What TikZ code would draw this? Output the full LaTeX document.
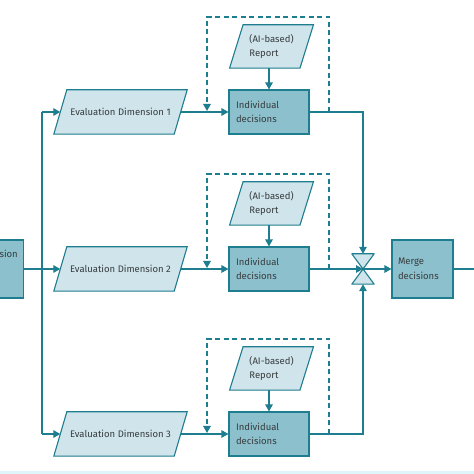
\documentclass[tikz,border=0pt]{standalone}
\usepackage{fontspec}
\setmainfont{Fira Sans}
\usetikzlibrary{arrows.meta, positioning, calc, backgrounds}

\definecolor{tealline}{RGB}{30,125,142}
\definecolor{lightfill}{RGB}{207,228,235}
\definecolor{boxfill}{RGB}{140,192,204}
\definecolor{textgray}{RGB}{55,60,62}
\definecolor{bandfill}{RGB}{222,245,250}

\begin{document}
\begin{tikzpicture}[
  x=1pt, y=1pt,
  every node/.style={font=\fontsize{9.5}{14.5}\selectfont, text=textgray},
  parashape/.style={draw=tealline, fill=lightfill, line width=1.1pt, line join=miter},
  evalbox/.style={rectangle, inner sep=0pt, minimum width=120pt, minimum height=44pt},
  reportbox/.style={rectangle, inner sep=0pt, minimum width=70pt, minimum height=43pt, align=left},
  decbox/.style={rectangle, draw=tealline, fill=boxfill, line width=1.1pt, text width=66pt, inner xsep=7pt, minimum height=44pt, align=left},
  mergebox/.style={rectangle, draw=tealline, fill=boxfill, line width=1.1pt, text width=49pt, inner xsep=6pt, minimum height=58pt, align=left},
  flow/.style={draw=tealline, line width=1.3pt},
  arrow/.style={flow, -{Triangle[length=7pt, width=7.5pt]}},
  dasharrow/.style={arrow, dash pattern=on 5pt off 3.5pt}
]
\useasboundingbox (0,0) rectangle (474,474);

% Start box (cut off at the left edge)
\node[decbox, text width=46pt, minimum height=58pt, anchor=east] (start) at (24,205) {};
\node[anchor=base east, inner xsep=1pt] (startlabel) at ($(start.north east)+(-5,-18)$) {sion};

% Three evaluation rows
\foreach \i/\y in {1/362, 2/205, 3/40} {
  \node[evalbox] (eval\i) at (120.5,\y) {Evaluation Dimension \i};
  \node[decbox] (ind\i) at (269,\y) {Individual\\decisions};
  \node[reportbox] (rep\i) at (271.5,\y+65.5) {(AI-based)\\Report};
  % slanted input/output shapes behind the texts
  \begin{scope}[on background layer]
    \draw[parashape] ($(eval\i.south west)+(-6.5,0)$) -- ($(eval\i.south east)+(-6.5,0)$)
      -- ($(eval\i.north east)+(6.5,0)$) -- ($(eval\i.north west)+(6.5,0)$) -- cycle;
    \draw[parashape] ($(rep\i.south west)+(-6.75,0)$) -- ($(rep\i.south east)+(-6.75,0)$)
      -- ($(rep\i.north east)+(6.75,0)$) -- ($(rep\i.north west)+(6.75,0)$) -- cycle;
  \end{scope}
  \coordinate (dr\i) at (329,\y);
  \coordinate (dl\i) at (207,\y+1);
  \draw[arrow] (eval\i) -- (ind\i);
  \draw[arrow] (ind\i.north |- rep\i.south) -- (ind\i.north);
  \draw[dasharrow] (dr\i) -- ++(0,95) -| (dl\i);
}

% Splitting trunk
\coordinate (trunk) at (42,205);
\draw[flow] (trunk |- eval1) -- (trunk |- eval3);
\foreach \i in {1,2,3} {
  \draw[arrow] (trunk |- eval\i) -- (eval\i);
}
\draw[flow] (start.east) -- (trunk);

% Merge junction and merged decision
\node[minimum width=22pt, minimum height=30pt, inner sep=0pt] (mg) at (363,205) {};
\node[mergebox] (merge) at (422.5,205) {Merge\\decisions};
\coordinate (out) at (480,205);

\draw[arrow] (ind1) -| (mg.north);
\draw[arrow] (ind3) -| (mg.south);
\draw[arrow] (ind2) -- (mg.center);
\draw[arrow] (mg.center) -- (merge);
\draw[flow] (merge) -- (out);

\draw[draw=tealline, fill=lightfill, line width=1.1pt, line join=round]
  (mg.north west) -- (mg.north east) -- (mg.center) -- cycle
  (mg.south west) -- (mg.south east) -- (mg.center) -- cycle;

% Bottom band
\fill[bandfill] (0,0) rectangle (474,2.5);
\end{tikzpicture}
\end{document}
